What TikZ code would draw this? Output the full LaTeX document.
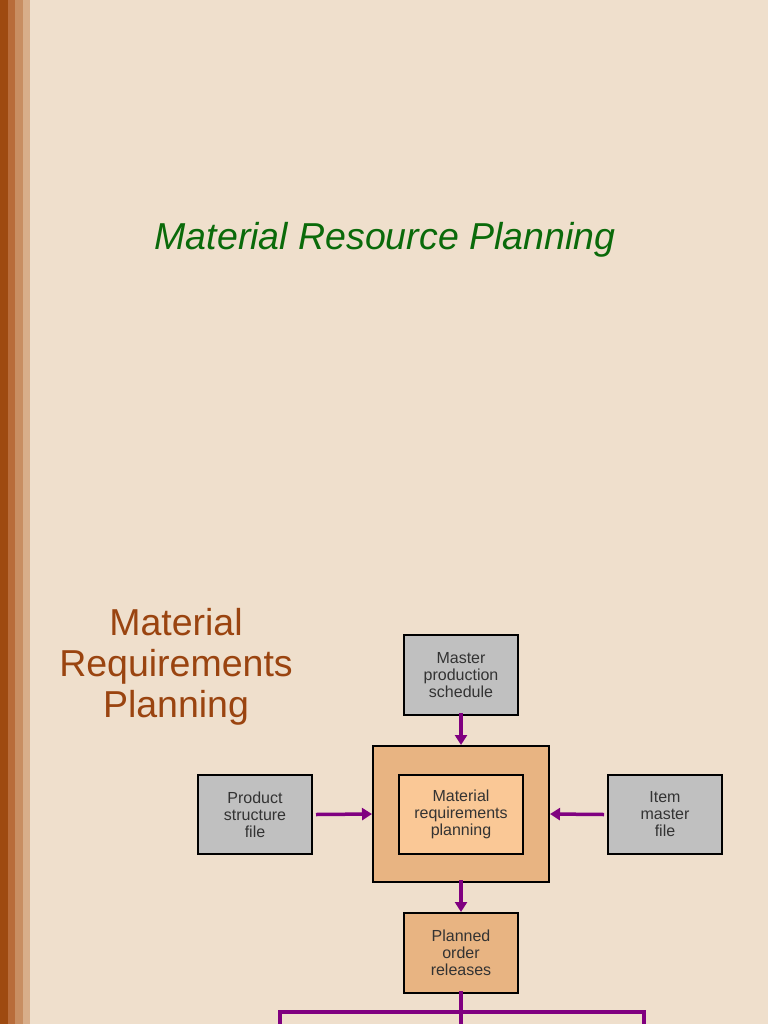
\documentclass[tikz,border=0pt]{standalone}
\usepackage{fontspec}
\setmainfont{Liberation Sans}
\usetikzlibrary{arrows.meta}
\definecolor{bg}{HTML}{EFDFCC}
\definecolor{grn}{HTML}{0A6A0A}
\definecolor{brn}{HTML}{9A4410}
\definecolor{pur}{HTML}{800080}
\definecolor{gry}{HTML}{C0C0C0}
\definecolor{tan}{HTML}{E8B482}
\definecolor{ltan}{HTML}{FAC896}
\definecolor{sa}{HTML}{9E4A10}
\definecolor{sb}{HTML}{B86C3A}
\definecolor{sc}{HTML}{C88E62}
\definecolor{sd}{HTML}{D8AE8A}
\begin{document}
\begin{tikzpicture}[x=1pt,y=-1pt,
  box/.style={draw=black,line width=2pt,inner sep=0pt,align=center,font=\fontsize{16}{17}\selectfont,text=black!80},
  conn/.style={draw=pur,line width=3.5pt},
  arr/.style={conn,-{Triangle[length=10pt,width=12pt]}}]
\useasboundingbox (0,0) rectangle (768,1024);
\fill[bg] (0,0) rectangle (768,1024);
\fill[sa] (0,0) rectangle (7.5,1024);
\fill[sb] (7.5,0) rectangle (15,1024);
\fill[sc] (15,0) rectangle (22.5,1024);
\fill[sd] (22.5,0) rectangle (30,1024);
\node[text=grn,font=\fontsize{37.5}{40}\selectfont\itshape] (title) at (385,240) {Material Resource Planning};
\node[text=brn,font=\fontsize{37.5}{41}\selectfont,align=center] (sub) at (176,667) {Material\\Requirements\\Planning};
\node[box,fill=gry,minimum width=114pt,minimum height=80pt] (mps) at (461,675) {Master\\production\\schedule};
\node[box,fill=tan,minimum width=176pt,minimum height=136pt] (big) at (461,814) {};
\node[box,fill=ltan,minimum width=124pt,minimum height=79pt] (mrp) at (461,814.5) {Material\\requirements\\planning};
\node[box,fill=gry,minimum width=114pt,minimum height=79pt] (psf) at (255,814.5) {Product\\structure\\file};
\node[box,fill=gry,minimum width=114pt,minimum height=79pt] (imf) at (665,814.5) {Item\\master\\file};
\node[box,fill=tan,minimum width=114pt,minimum height=80pt] (por) at (461,953) {Planned\\order\\releases};
\draw[arr] ([yshift=3pt]mps.south) -- (big.north);
\draw[arr] ([xshift=3pt]psf.east) -- (big.west);
\draw[arr] ([xshift=-3pt]imf.west) -- (big.east);
\draw[arr] ([yshift=3pt]big.south) -- (por.north);
\coordinate (j) at (461,1012);
\coordinate (l) at (280,1012);
\coordinate (r) at (644,1012);
\draw[conn] ([yshift=3pt]por.south) -- (461,1026);
\draw[conn] (280,1026) -- (l) -- (r) -- (644,1026);
\end{tikzpicture}
\end{document}
